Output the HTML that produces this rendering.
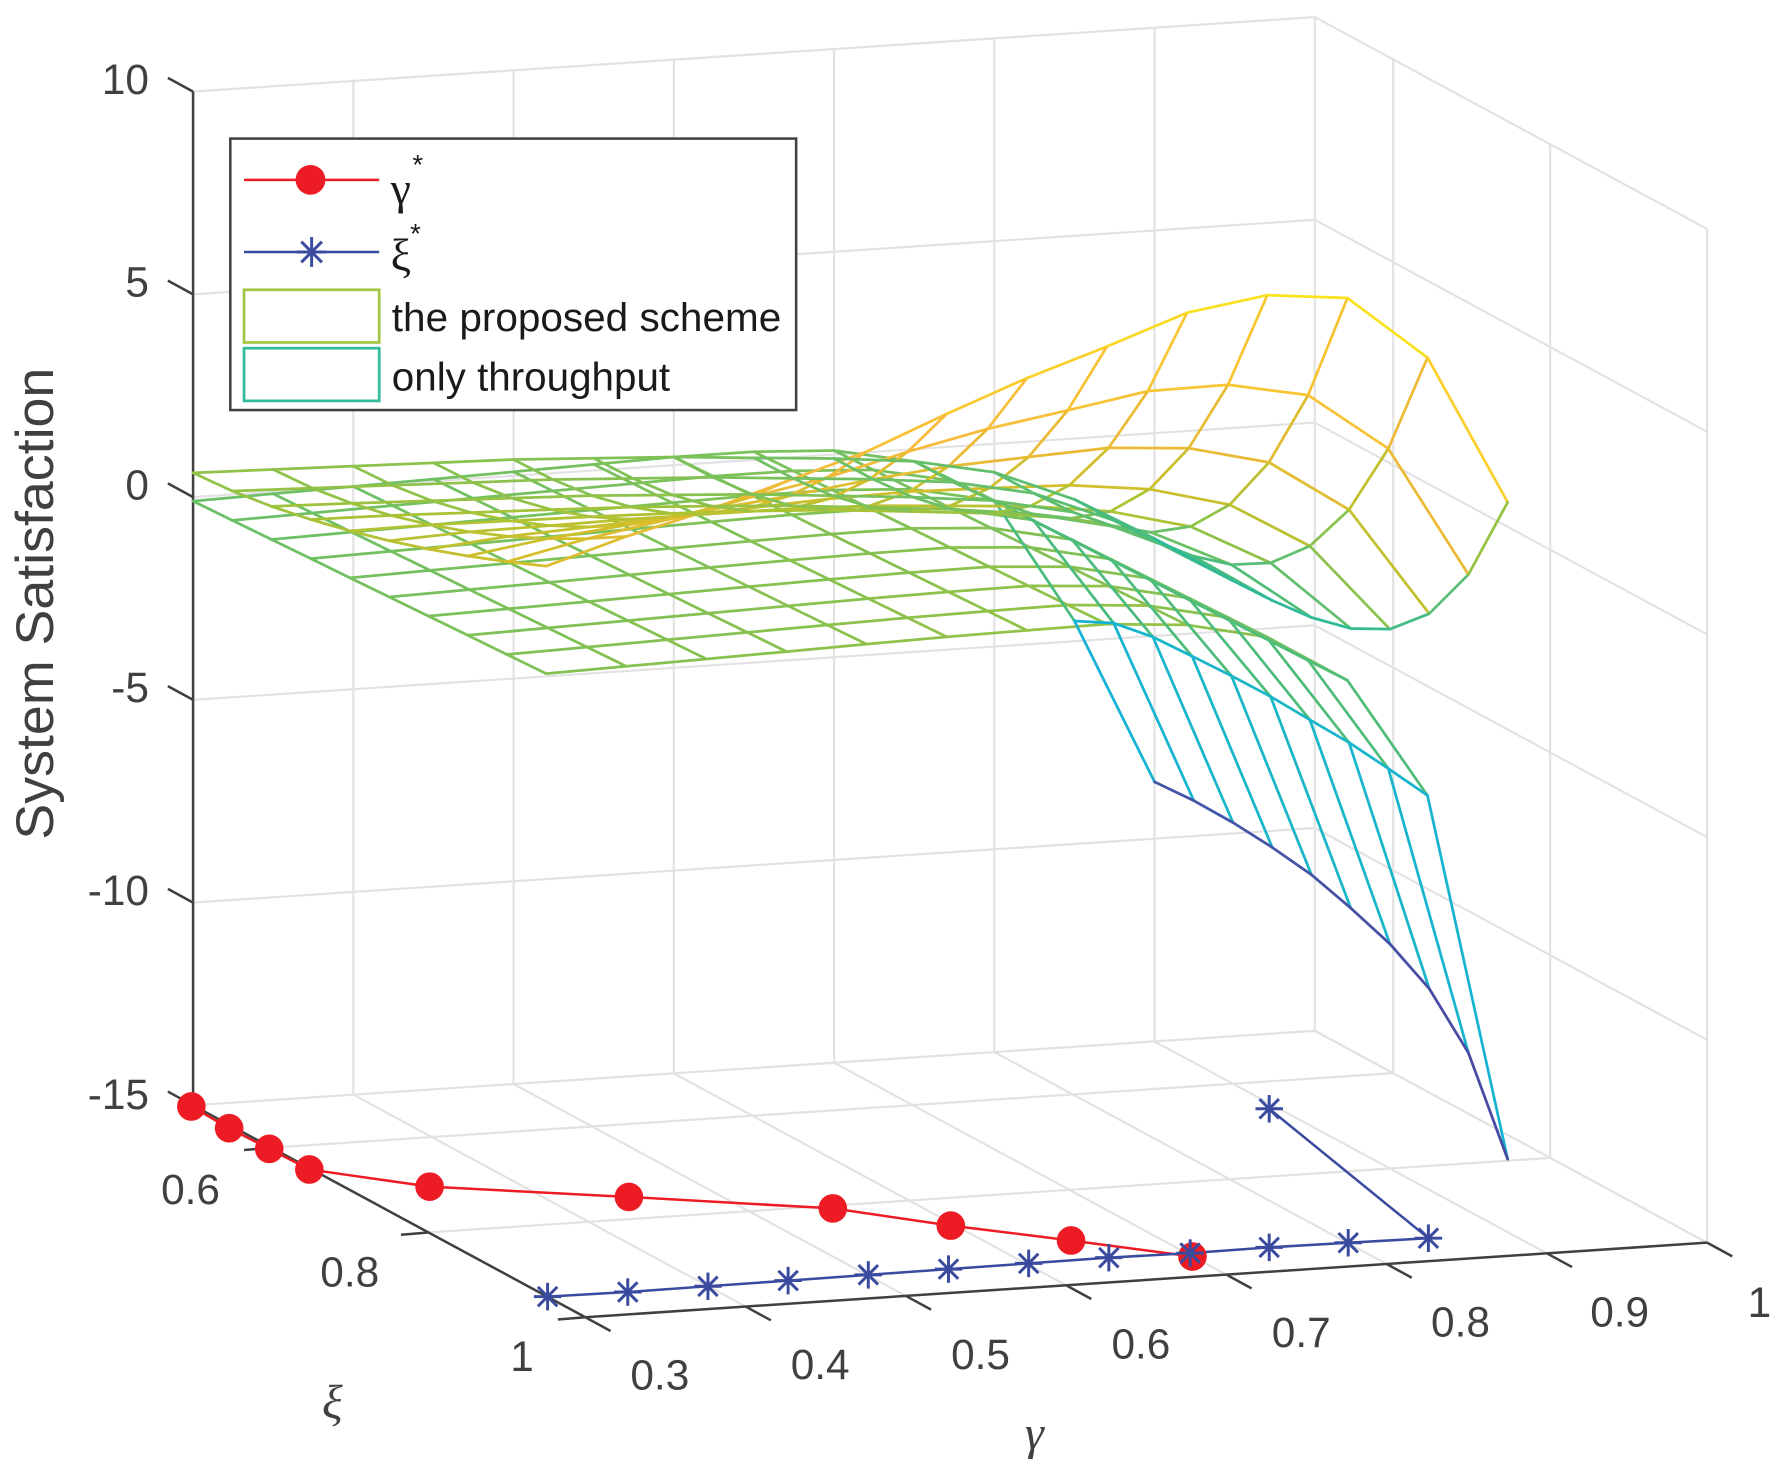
<!DOCTYPE html>
<html><head><meta charset="utf-8"><style>
html,body{margin:0;padding:0;background:#fff;}
svg{display:block;}
</style></head><body>
<svg id="s" xmlns="http://www.w3.org/2000/svg" width="1787" height="1473" viewBox="0 0 1560 1286">
<rect x="0" y="0" width="1560" height="1286" fill="#fff"/>
<g id="grid" stroke="#e2e2e2" stroke-width="1.9" fill="none"></g>
<g id="axes" stroke="#404040" stroke-width="2.2" fill="none"></g>
<g id="surfT" stroke-width="2.4" stroke-linecap="round"></g>
<g id="surfP" stroke-width="2.4" stroke-linecap="round"></g>
<g id="mk"></g>
<g font-family="Liberation Sans, Arial, sans-serif" fill="#404040" font-size="37">
<text x="130" y="82" text-anchor="end">10</text>
<text x="130" y="259" text-anchor="end">5</text>
<text x="130" y="436" text-anchor="end">0</text>
<text x="130" y="613" text-anchor="end">-5</text>
<text x="130" y="790" text-anchor="end">-10</text>
<text x="130" y="968" text-anchor="end">-15</text>
<text x="192" y="1051" text-anchor="end">0.6</text>
<text x="331" y="1123" text-anchor="end">0.8</text>
<text x="466" y="1197" text-anchor="end">1</text>
<text x="576" y="1213" text-anchor="middle">0.3</text>
<text x="716" y="1204" text-anchor="middle">0.4</text>
<text x="856" y="1195" text-anchor="middle">0.5</text>
<text x="996" y="1186" text-anchor="middle">0.6</text>
<text x="1136" y="1176" text-anchor="middle">0.7</text>
<text x="1275" y="1167" text-anchor="middle">0.8</text>
<text x="1414" y="1158" text-anchor="middle">0.9</text>
<text x="1536" y="1150" text-anchor="middle">1</text>
<text x="0" y="0" font-size="46" text-anchor="middle" transform="translate(46,527) rotate(-90)" textLength="412" lengthAdjust="spacingAndGlyphs">System Satisfaction</text>
<text x="290" y="1238" font-family="Liberation Serif, serif" font-style="italic" font-size="42" text-anchor="middle">ξ</text>
<text x="903" y="1265" font-family="Liberation Serif, serif" font-style="italic" font-size="42" text-anchor="middle">γ</text>
</g>
<g id="legend">
<rect x="201" y="121" width="494" height="237" fill="#fff" stroke="#404040" stroke-width="2.2"/>
<line x1="213" y1="157" x2="331" y2="157" stroke="#ed1c24" stroke-width="2.2"/>
<circle cx="271" cy="157" r="13" fill="#ed1c24"/>
<line x1="213" y1="220" x2="331" y2="220" stroke="#3a4b9f" stroke-width="2.2"/>
<g stroke="#3a4b9f" stroke-width="2.6"><line x1="259" y1="220" x2="285" y2="220"/><line x1="272" y1="207" x2="272" y2="233"/><line x1="263" y1="211" x2="281" y2="229"/><line x1="263" y1="229" x2="281" y2="211"/></g>
<rect x="213" y="253" width="118" height="46" fill="none" stroke="#a3c644" stroke-width="2.4"/>
<rect x="213" y="304" width="118" height="46" fill="none" stroke="#33bb9c" stroke-width="2.4"/>
<g font-family="Liberation Serif, serif" fill="#1a1a1a">
<text x="341" y="178" font-size="40">γ</text><text x="360" y="152" font-size="24" font-family="Liberation Sans, sans-serif">*</text>
<text x="341" y="236" font-size="40">ξ</text><text x="358" y="212" font-size="24" font-family="Liberation Sans, sans-serif">*</text>
</g>
<g font-family="Liberation Sans, Arial, sans-serif" fill="#1a1a1a" font-size="35">
<text x="342" y="289" textLength="340" lengthAdjust="spacingAndGlyphs">the proposed scheme</text>
<text x="342" y="341" textLength="243" lengthAdjust="spacingAndGlyphs">only throughput</text>
</g>
</g>
</svg>
<script>
(function(){
var NS="http://www.w3.org/2000/svg";
function P(g,x,z){return [168.5+(g-0.3)*1399+(x-0.5)*685, 965-(g-0.3)*93+(x-0.5)*370-(z+15)*35.4];}
function L(par,a,b,col,w){var l=document.createElementNS(NS,"line");l.setAttribute("x1",a[0].toFixed(1));l.setAttribute("y1",a[1].toFixed(1));l.setAttribute("x2",b[0].toFixed(1));l.setAttribute("y2",b[1].toFixed(1));if(col)l.setAttribute("stroke",col);if(w)l.setAttribute("stroke-width",w);par.appendChild(l);return l;}
var grid=document.getElementById("grid"),axes=document.getElementById("axes");
var zl=[-15,-10,-5,0,5,10],k;
// back wall (xi=0.5)
for(k=0;k<zl.length;k++){L(grid,P(0.3,0.5,zl[k]),P(1,0.5,zl[k]));L(grid,P(1,0.5,zl[k]),P(1,1,zl[k]));}
for(k=1;k<=7;k++){var g=0.3+0.1*k;L(grid,P(g,0.5,-15),P(g,0.5,10));L(grid,P(g,0.5,-15),P(g,1,-15));}
[0.6,0.8,1.0].forEach(function(x){L(grid,P(1,x,-15),P(1,x,10));L(grid,P(0.3,x,-15),P(1,x,-15));});
// axes
L(axes,P(0.3,0.5,-15),P(0.3,0.5,10));
L(axes,P(0.3,0.5,-15),P(0.3,1,-15));
L(axes,P(0.3,1,-15),P(1,1,-15));
for(k=0;k<zl.length;k++){var a=P(0.3,0.5,zl[k]);L(axes,a,[a[0]-22,a[1]-12]);}
[0.6,0.8,1.0].forEach(function(x){var a=P(0.3,x,-15);L(axes,a,[a[0]-24,a[1]+2]);});
for(k=0;k<=7;k++){var a2=P(0.3+0.1*k,1,-15);L(axes,a2,[a2[0]+22,a2[1]+12]);}
// colors
var stops=[[-13.2,[70,70,160]],[-9,[72,78,163]],[-8,[60,95,172]],[-6,[20,170,222]],[-4,[22,180,208]],[-2.8,[42,185,160]],[-1.5,[72,188,128]],[0,[110,192,100]],[1,[170,195,52]],[2.5,[212,190,42]],[4.5,[247,185,60]],[6.5,[250,205,45]],[8.5,[249,228,30]]];
function col(z){if(z<=stops[0][0])return "rgb("+stops[0][1].join(",")+")";for(var i=1;i<stops.length;i++){if(z<=stops[i][0]){var a=stops[i-1],b=stops[i],t=(z-a[0])/(b[0]-a[0]);return "rgb("+[0,1,2].map(function(c){return Math.round(a[1][c]+(b[1][c]-a[1][c])*t);}).join(",")+")";}}return "rgb(249,228,30)";}
var z0=[.6,.55,.5,.45,.4,.3,.2,.05,-.1,-.3,-.7,-1.5,-2.6];
var z1=[3.0,3.6,4.1,4.7,5.3,6.1,6.85,7.5,8.2,8.5,8.3,6.7,3.0];
function zP(i,j){var p=i<=11?1.6+(i/11)*1.9:4.5;var t=j/9;return z0[i]+(z1[i]-z0[i])*Math.pow(t,p);}
var bk=[-0.1,-0.05,0,0.05,0.1,0.15,0.2,0.2,0.1,-0.3,-1.4];
var fr=[.35,.4,.45,.5,.55,.6,.63,.65,.5,.07,-1.13];
var T11=[-4.5,-4.03,-3.85,-3.8,-3.76,-3.75,-3.8,-3.84,-3.96,-4.1];
var T12=[-8.6,-8.54,-8.56,-8.65,-8.8,-9.1,-9.46,-10.04,-11.1,-13.2];
function zT(i,j){if(i==11)return T11[j];if(i==12)return T12[j];var t=j/9;return bk[i]+(fr[i]-bk[i])*t;}
function mesh(id,f){var par=document.getElementById(id),i,j;
 for(i=0;i<13;i++)for(j=0;j<10;j++){var g=0.3+0.05*i,x=0.5+0.05*j,z=f(i,j),a=P(g,x,z);
  if(i<12){L(par,a,P(g+0.05,x,f(i+1,j)),col(z));}
  if(j<9){L(par,a,P(g,x+0.05,f(i,j+1)),col(z));}
 }}
mesh("surfT",zT);mesh("surfP",zP);
// markers
var mk=document.getElementById("mk");
var red=[[167,966],[200,985],[235,1003],[270,1021],[375,1036],[549,1045],[727,1055],[830,1070],[935,1083],[1041,1097]];
var blue=[[478,1132],[548,1128],[618,1123],[688,1118],[758,1113],[828,1108],[898,1103],[968,1098],[1039,1094],[1108,1089],[1177,1085],[1247,1081]];
var pl=document.createElementNS(NS,"polyline");pl.setAttribute("points",red.map(function(p){return p.join(",");}).join(" "));pl.setAttribute("fill","none");pl.setAttribute("stroke","#ed1c24");pl.setAttribute("stroke-width","2.2");mk.appendChild(pl);
var pb=document.createElementNS(NS,"polyline");pb.setAttribute("points",blue.map(function(p){return p.join(",");}).join(" ")+" 1108,968");pb.setAttribute("fill","none");pb.setAttribute("stroke","#3a4b9f");pb.setAttribute("stroke-width","2.2");mk.appendChild(pb);
red.forEach(function(p){var c=document.createElementNS(NS,"circle");c.setAttribute("cx",p[0]);c.setAttribute("cy",p[1]);c.setAttribute("r","12.5");c.setAttribute("fill","#ed1c24");mk.appendChild(c);});
blue.concat([[1108,968]]).forEach(function(p){var s=12;
 L(mk,[p[0]-s,p[1]],[p[0]+s,p[1]],"#3a4b9f",2.6);L(mk,[p[0],p[1]-s],[p[0],p[1]+s],"#3a4b9f",2.6);
 L(mk,[p[0]-8.5,p[1]-8.5],[p[0]+8.5,p[1]+8.5],"#3a4b9f",2.6);L(mk,[p[0]-8.5,p[1]+8.5],[p[0]+8.5,p[1]-8.5],"#3a4b9f",2.6);});
})();
</script>
</body></html>
